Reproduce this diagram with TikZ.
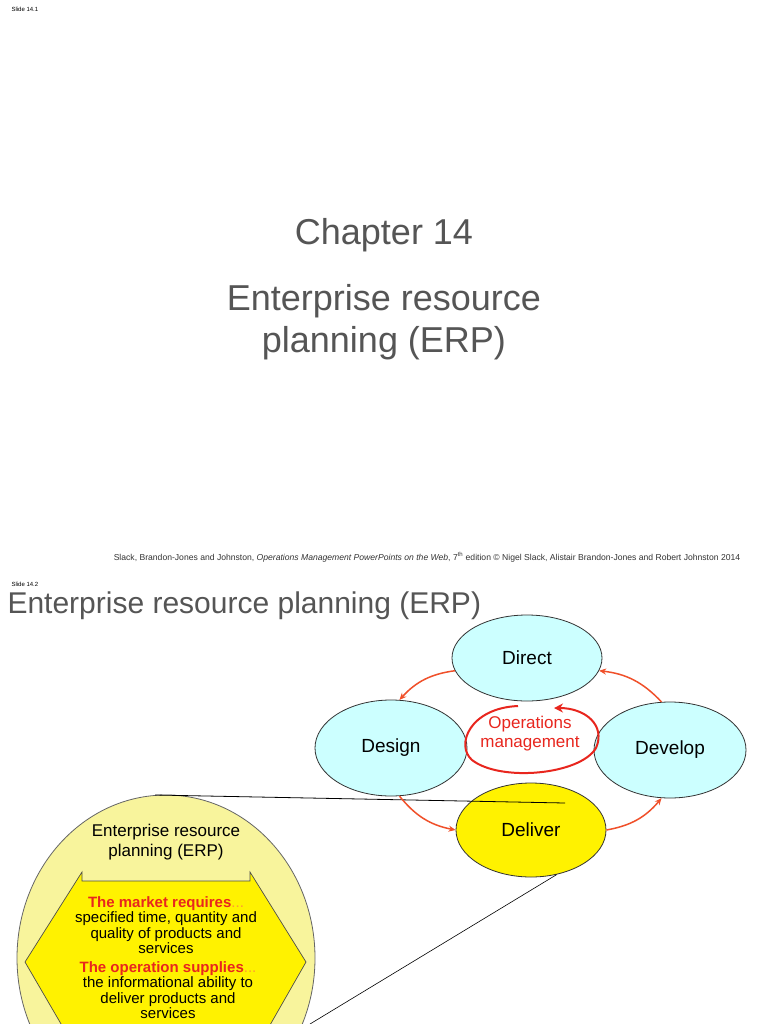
\documentclass[tikz,border=0pt]{standalone}
\usepackage{fontspec}
\setmainfont{Liberation Sans}
\usetikzlibrary{arrows.meta}
\definecolor{titlegray}{HTML}{555555}
\definecolor{cyanfill}{HTML}{CCFFFF}
\definecolor{arr}{HTML}{F0502A}
\definecolor{mred}{HTML}{E8261E}
\definecolor{lightyel}{HTML}{F8F49C}
\tikzset{
 fs/.style={font=\fontsize{#1}{#1}\selectfont},
 ell/.style={draw=black!80, line width=0.8pt, fill=cyanfill, ellipse},
 flow/.style={draw=arr, line width=1.5pt, -{Stealth[length=7pt,width=6pt]}},
}
\usetikzlibrary{shapes.geometric}
\begin{document}
\begin{tikzpicture}[x=1pt,y=-1pt]
\useasboundingbox (0,0) rectangle (768,1024);
\fill[white] (0,0) rectangle (768,1024);
% slide 1
\node[fs=6,anchor=west] (s1) at (8,9) {Slide 14.1};
\node[fs=36,text=titlegray] (ch) at (384,235) {Chapter 14};
\node[fs=36,text=titlegray,align=center] (t1) at (384,322) {Enterprise resource\\[6pt]planning (ERP)};
\node[fs=8.6,text=black!80] (foot) at (427,557) {Slack, Brandon-Jones and Johnston, \textit{Operations Management PowerPoints on the Web}, 7\textsuperscript{th} edition © Nigel Slack, Alistair Brandon-Jones and Robert Johnston 2014};
% slide 2
\node[fs=6,anchor=west] (s2) at (8,584) {Slide 14.2};
\node[fs=30,text=titlegray,anchor=west] (t2) at (4,606) {Enterprise resource planning (ERP)};
% big circle
\fill[lightyel] (166,958) ellipse [x radius=149, y radius=163];
\draw[black!60, line width=0.8pt] (166,958) ellipse [x radius=149, y radius=163];
\coordinate (c1) at (155,795);
\coordinate (c2) at (310,1024);
\coordinate (d1) at (565,803);
% hexagon
\path[fill=yellow, draw=black!70, line width=0.7pt] (82,1060) -- (25,962) -- (82,872) -- (82,881) -- (250,881) -- (250,872) -- (306,962) -- (250,1060) -- cycle;
\node[fs=17,align=center] (erp) at (166,842) {Enterprise resource\\[3pt]planning (ERP)};
\node[align=center,inner sep=0pt,font=\fontsize{15}{15.5}\selectfont] (mk) at (166,925) {\textcolor{mred}{\textbf{The market requires}}\textcolor{orange!80}{...}\\specified time, quantity and\\quality of products and\\services};
\node[align=center,inner sep=0pt,font=\fontsize{15}{15.5}\selectfont] (op) at (168,990) {\textcolor{mred}{\textbf{The operation supplies}}\textcolor{orange!80}{...}\\the informational ability to\\deliver products and\\services};
% cycle
\node[ell, minimum width=150, minimum height=86, fs=19] (direct) at (527,658) {Direct};
\node[ell, minimum width=152, minimum height=96, fs=19] (design) at (391,748) {Design};
\node[ell, minimum width=152, minimum height=96, fs=19] (develop) at (670,750) {Develop};
\node[ell, fill=yellow, minimum width=150, minimum height=94, fs=19] (deliver) at (531,830) {Deliver};
\draw[black, line width=0.8pt] (c1) -- (d1);
\draw[black, line width=0.6pt] (deliver.-60) -- (c2);
\node[fs=17,text=mred,align=center,inner sep=0pt] (om) at (530,734) {Operations\\[2pt]management};
\draw[mred, line width=2pt, -{Stealth[length=9pt,width=9pt]}] (518,706) .. controls (470,708) and (455,745) .. (472,760) .. controls (500,782) and (580,775) .. (596,748) .. controls (606,725) and (585,708) .. (554,708);
\draw[flow] (direct.190) to[bend right=20] (design.80);
\draw[flow] (design.-80) to[bend right=20] (deliver.180);
\draw[flow] (deliver.0) to[bend right=20] (develop.-100);
\draw[flow] (develop.100) to[bend right=20] (direct.-10);
\end{tikzpicture}
\end{document}
